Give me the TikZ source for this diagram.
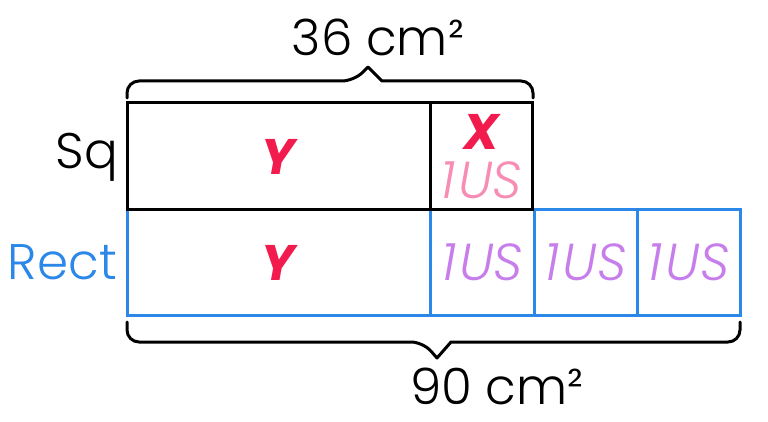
\documentclass[tikz,border=0pt]{standalone}
\usepackage{fontspec}
\setmainfont{Poppins}[UprightFont=*-Light, ItalicFont=*-LightItalic, BoldFont=*-Bold, BoldItalicFont=*-BoldItalic]
\definecolor{rectblue}{HTML}{2B87E8}
\definecolor{vred}{HTML}{F21B4E}
\definecolor{upurple}{HTML}{C77EEB}
\definecolor{upink}{HTML}{F78CB4}
\begin{document}
\begin{tikzpicture}[x=1pt,y=-1pt,
  cellR/.style={draw=rectblue, line width=3pt, inner sep=0pt, minimum height=105pt},
  cellS/.style={draw=black, line width=3pt, inner sep=0pt, minimum height=107pt},
  lbl/.style={inner sep=0pt, font=\fontsize{50}{60}\selectfont},
  vy/.style={text=vred, font=\fontsize{50}{60}\selectfont\bfseries\itshape},
  us/.style={inner sep=0pt, font=\fontsize{52}{60}\selectfont\itshape},
  brace/.style={draw=black, line width=3pt, line join=round, line cap=round}]
\useasboundingbox (0,0) rectangle (768,422);
% Rect row
\node[cellR, minimum width=303pt, vy] (r1) at (278.5,262.5) {Y};
\node[cellR, minimum width=104pt] (r2) at (482,262.5) {};
\node[cellR, minimum width=103pt] (r3) at (585.5,262.5) {};
\node[cellR, minimum width=103pt] (r4) at (688.5,262.5) {};
\node[us, text=upurple] (u2) at (r2.center) {1\kern3pt US};
\node[us, text=upurple] (u3) at (r3.center) {1\kern3pt US};
\node[us, text=upurple] (u4) at (r4.center) {1\kern3pt US};
% Square row
\node[cellS, minimum width=303pt, vy] (s1) at (278.5,156.5) {Y};
\node[cellS, minimum width=102pt] (s2) at (481,156.5) {};
\node[vy, inner sep=0pt] (x) at (481,132) {X};
\node[us, text=upink] (u1) at (481,180) {1\kern3pt US};
% labels
\node[lbl, anchor=east] (sq) at (118,157) {Sq};
\node[lbl, anchor=east, text=rectblue] (rect) at (117,262) {Rect};
\node[lbl] (top) at (378,37) {36 cm²};
\node[lbl] (bot) at (497,386) {90 cm²};
% braces
\draw[brace] (127,98) [rounded corners=12pt] |- (354,81) [sharp corners] -- (368,67) -- (382,81) [rounded corners=12pt] -| (533,98);
\draw[brace] (127,322) [rounded corners=12pt] |- (423,342) [sharp corners] -- (437,358) -- (451,342) [rounded corners=12pt] -| (740,322);
\end{tikzpicture}
\end{document}
